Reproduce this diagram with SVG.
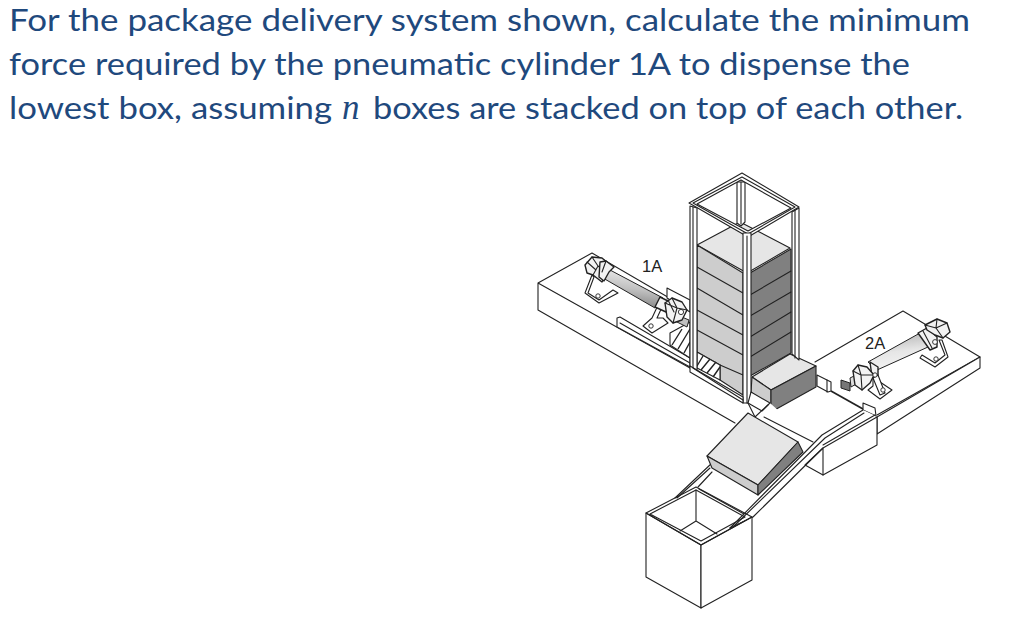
<svg xmlns="http://www.w3.org/2000/svg" width="1024" height="619" viewBox="0 0 1024 619">
<style>
.t{font-family:"Lato","Open Sans",sans-serif;font-size:31px;fill:#1f497d}
.m{font-family:"Liberation Serif",serif;font-style:italic;font-size:35px}
.l{font-family:"Liberation Sans",Arial,sans-serif;font-size:16.5px;fill:#222}
.s{fill:none;stroke:#222;stroke-width:1.1;stroke-linejoin:round;stroke-linecap:round}
.w{fill:#fff;stroke:#222;stroke-width:1.1;stroke-linejoin:round}
.c{fill:#f2f2f2;stroke:#222;stroke-width:1.4;stroke-linejoin:round}
.e{fill:#fff;stroke:none}
.f{fill:#fff;stroke:#222;stroke-width:.9}
.lt{fill:#e6e6e6;stroke:#222;stroke-width:1.1;stroke-linejoin:round}
.md{fill:#cdcdcd;stroke:#222;stroke-width:1.1;stroke-linejoin:round}
.dk{fill:#808080;stroke:#222;stroke-width:1.1;stroke-linejoin:round}
.h{fill:none;stroke:#222;stroke-width:1.4}
.b{fill:none;stroke:#222;stroke-width:1.8}
</style>
<defs>
<linearGradient id="g1" x1="0.6" y1="0" x2="0.4" y2="1"><stop offset="0" stop-color="#eeeeee"/><stop offset="0.5" stop-color="#c0c0c0"/><stop offset="1" stop-color="#808080"/></linearGradient>
<linearGradient id="g2" x1="0.4" y1="0" x2="0.6" y2="1"><stop offset="0" stop-color="#b5b5b5"/><stop offset="0.5" stop-color="#e6e6e6"/><stop offset="1" stop-color="#f5f5f5"/></linearGradient>
</defs>
<g id="question">
<text class="t" x="9" y="30.8" textLength="961" lengthAdjust="spacingAndGlyphs">For the package delivery system shown, calculate the minimum</text>
<text class="t" x="9" y="74.8" textLength="901" lengthAdjust="spacingAndGlyphs">force required by the pneumatic cylinder 1A to dispense the</text>
<text class="t" x="9" y="118.8" textLength="323" lengthAdjust="spacingAndGlyphs">lowest box, assuming</text>
<text class="t m" x="342" y="118.8">n</text>
<text class="t" x="373" y="118.8" textLength="590" lengthAdjust="spacingAndGlyphs">boxes are stacked on top of each other.</text>
</g>
<g id="base-left">
<path class="e" d="M538 283L592 253L700 315V375L745 410L735 423L538 310Z"/>
<path class="s" d="M592 253L690 310M538 283L592 253M538 283L690 368M538 283V310L735 423"/>
</g>
<g id="base-right">
<path class="e" d="M815 362L903 311L980 357L877 417L863 408L815 385Z"/>
<path class="s" d="M815 362L903 311L980 357L877 415"/>
<path class="w" d="M980 357V368L877 434V417Z"/>
</g>
<g id="feed-rail-1a">
<path class="w" d="M617 318L620 317L690 358V367L617 327Z"/>
<path class="s" d="M620 323L690 363"/>
<path class="w" d="M667 288L690 300V312L667 298Z"/>
<path class="w" d="M670 333L690 322V358L670 345Z"/>
<path class="h" d="M672 345L682 329M678 349L690 329M684 353L690 342"/>
</g>
<g id="cylinder-1a">
<path class="w" d="M592 275L585 293L599 303L618 293L613 290L599 300L588 293L594 277Z"/>
<circle class="f" cx="598" cy="296" r="2.2"/>
<path d="M603 278L610 270L663 298L655 308Z" fill="url(#g1)" stroke="#222" stroke-width="1"/>
<path class="c" d="M585 265L592 257L602 258L610 265L607 273L602 282L593 275L587 273Z"/>
<path class="s" d="M592 257L598 266L593 275M598 266L607 273M587 262L596 270"/>
<path class="c" d="M600 262L606 261L614 267L609 272L604 281L599 277Z"/>
<path class="s" d="M606 261L602 272"/>
<path class="w" d="M643 326L652 333L668 323L663 318L657 318L663 305L659 303L652 318Z"/>
<circle class="f" cx="651" cy="326" r="2.2"/>
<path class="c" d="M655 307L660 297L670 302L666 312Z"/>
<path d="M677 315L689 320L687 327L675 321Z" fill="#c0c0c0" stroke="#222" stroke-width="1"/>
<path class="c" d="M665 303L672 298L682 302L687 310L682 320L673 323L667 317Z"/>
<path class="s" d="M672 298L677 308L673 323M677 308L687 310M665 303L677 308M668 300L674 312"/>
<circle class="f" cx="681" cy="312" r="2.6"/>
<text class="l" x="642" y="272">1A</text>
</g>
<g id="cylinder-2a">
<path class="w" d="M942 340L948 357L935 367L920 358L922 355L935 363L945 355L939 340Z"/>
<circle class="f" cx="936" cy="359" r="2.2"/>
<path d="M868 362L920 333L928 347L877 370Z" fill="url(#g2)" stroke="#222" stroke-width="1"/>
<path class="c" d="M918 333L927 328L937 337V347L930 350Z"/>
<path class="s" d="M923 331L932 348"/>
<path class="c" d="M925 325L937 319L947 323L950 332L943 338L935 335L927 330Z"/>
<path class="s" d="M937 319L936 328L947 323M936 328L943 338M936 328L925 325"/>
<circle class="f" cx="935" cy="342" r="2.4"/>
<path class="w" d="M873 378L880 382L892 390L880 399L868 390L873 386Z"/>
<path class="w" d="M873 378L880 395L885 393L878 375Z"/>
<circle class="f" cx="883" cy="390" r="2.2"/>
<path class="c" d="M870 362L878 367V375L872 377Z"/>
<path d="M850 378L856 375L858 383L851 387Z" fill="#ddd" stroke="#222" stroke-width="1"/>
<path class="c" d="M853 371L858 365L867 367L874 375L870 383L862 390L855 385Z"/>
<path class="s" d="M858 365L861 375L862 390M861 375L853 371M861 375L874 375"/>
<circle class="f" cx="875" cy="375" r="2.2"/>
<path d="M841 380L850 383V391L841 388Z" fill="#777" stroke="#222" stroke-width="1"/>
<text class="l" x="865" y="349">2A</text>
</g>
<g id="stack">
<path class="lt" d="M697 245L740 222L790 248L747 273Z"/>
<path class="md" d="M697 245L743 273V395L720 380V365L697 352Z"/>
<path class="dk" d="M750 273L791 249V353L750 376Z"/>
<path class="s" d="M697 267L743 293M697 288L743 315M697 310L743 335M697 330L743 355M720 365L743 375"/>
<path class="s" d="M750 295L791 271M750 316L791 292M750 337L791 312M750 357L791 332"/>
<path class="w" d="M697 352L720 365V380L697 368Z"/>
<path class="h" d="M697 366L703 356M701 370L710 359M707 373L716 362M713 377L720 367"/>
</g>
<g id="drawer-box">
<path class="lt" d="M752 377L790 354L816 366L771 390Z"/>
<path class="md" d="M752 377L771 390V412L751 392Z"/>
<path class="dk" d="M771 390L816 366V387L771 412Z"/>
</g>
<g id="stop-2a">
<path class="w" d="M817 375L827 380L831 382V391L828 392L817 386Z"/>
<path class="s" d="M827 380V392"/>
<path class="b" d="M831 391L863 409"/>
</g>
<g id="tower">
<path class="w" d="M737 182H745V222L741 226L737 223Z"/>
<path class="s" d="M741 182V224"/>
<path class="w" d="M689 203L742 173L799 207L748 237ZM697 204L741 180L791 208L748 231Z" fill-rule="evenodd"/>
<path class="s" d="M693 203L742 177L795 207L748 234Z"/>
<path class="w" d="M690 206L697 208V372L690 368Z"/>
<path class="s" d="M693 207V370"/>
<path class="w" d="M743 233L751 233V403H743Z"/>
<path class="s" d="M747 236V403"/>
<path class="w" d="M792 212L799 208V360L792 354Z"/>
<path class="s" d="M795 210V358"/>
<path class="w" d="M690 366L743 397V403L690 372Z"/>
<path class="s" d="M693 368L743 400"/>
</g>
<g id="chute">
<path class="e" d="M755 417L770 403L813 442L822 435L730 528L696 487L712 463Z"/>
<path class="w" d="M751 392L770 403L755 417L748 403Z"/>
<path class="s" d="M748 403L762 411L768 405M764 417L813 442"/>
<path class="w" d="M863 403L875 408L876 416L863 410Z"/>
<path class="e" d="M863 410L876 416L823 448L753 517L730 528L822 435Z"/>
<path class="s" d="M863 410L822 435L730 528M864 413L825 438L732 528M875 415L823 445"/>
<path class="w" d="M877 417V445L823 475L805 465L823 448Z"/>
<path class="s" d="M823 448V475M823 448L753 517L730 528"/>
<path class="s" d="M712 463L675 498M710 468L677 498M712 472L698 487"/>
</g>
<g id="tilted-box">
<path class="lt" d="M748 413L798 442L758 485L707 456Z"/>
<path class="md" d="M707 456L758 485V495L712 468Z"/>
<path class="dk" d="M798 442L803 452L758 495V485Z"/>
</g>
<g id="bin">
<path class="w" d="M646 513V577L701 608V545Z"/>
<path class="w" d="M701 545V608L752 580V517Z"/>
<path class="s" d="M646 513L696 487L752 517L701 545ZM650 514L696 490L745 517L701 541Z"/>
<path class="s" d="M696 490V521L680 531M696 521L717 534M699 489L744 514"/>
</g>
</svg>
